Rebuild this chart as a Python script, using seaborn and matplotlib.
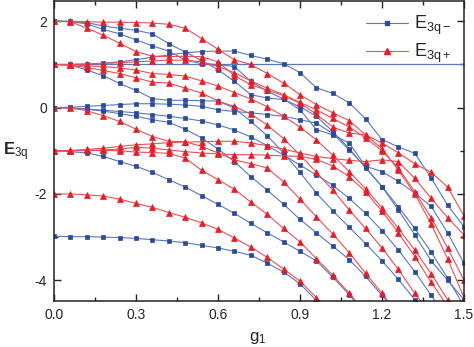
import numpy as np
import pandas as pd
import matplotlib
matplotlib.use("Agg")
import matplotlib.pyplot as plt
from matplotlib.lines import Line2D
from matplotlib.ticker import MultipleLocator
import seaborn as sns

# coupling grid shared by all levels
g1 = [0.00, 0.06, 0.12, 0.18, 0.24, 0.30, 0.36, 0.42, 0.48, 0.54, 0.60, 0.66, 0.72,
      0.78, 0.84, 0.90, 0.96, 1.02, 1.08, 1.14, 1.20, 1.26, 1.32, 1.38, 1.44, 1.50]

# odd-parity levels E_3q-
em_1 = [2.0, 2.0, 1.97, 1.89, 1.84, 1.79, 1.71, 1.48, 1.29, 1.09, 0.88, 0.61, 0.30,
        0.22, 0.19, 0.02, -0.20, -0.55, -0.95, -1.40, -1.83, -2.30, -2.80, -3.35, -3.95, -4.60]
em_2 = [2.0, 1.99, 1.94, 1.81, 1.71, 1.57, 1.43, 1.31, 1.10, 1.02, 1.00, 0.95, 0.61,
        0.38, 0.20, -0.05, -0.51, -0.63, -0.82, -1.36, -1.48, -1.71, -1.98, -2.29, -2.90, -3.61]
em_3 = [1.0, 1.0, 1.01, 1.03, 1.06, 1.11, 1.17, 1.22, 1.27, 1.30, 1.31, 1.31, 1.21,
        1.12, 1.02, 0.81, 0.46, 0.33, 0.11, -0.26, -0.74, -0.91, -1.06, -1.63, -2.26, -2.76]
em_4 = [1.0, 0.99, 0.87, 0.74, 0.56, 0.40, 0.21, 0.17, 0.17, 0.16, 0.15, -0.01, -0.32,
        -0.65, -1.05, -1.50, -1.98, -2.39, -2.77, -3.15, -3.55, -3.98, -4.45, -4.90]
em_5 = [0.0, -0.01, -0.04, -0.08, -0.14, -0.20, -0.28, -0.34, -0.50, -0.70, -0.96, -1.25,
        -1.60, -1.91, -2.24, -2.59, -2.90, -3.21, -3.52, -3.91, -4.35, -4.80]
em_6 = [0.0, 0.01, 0.03, 0.05, 0.07, 0.09, 0.09, 0.08, 0.06, 0.03, -0.05, -0.09, -0.12,
        -0.16, -0.20, -0.28, -0.36, -0.60, -0.98, -1.38, -1.83, -2.37, -2.95, -3.55, -4.00, -4.45]
em_7 = [0.0, -0.01, -0.03, -0.06, -0.09, -0.12, -0.16, -0.20, -0.25, -0.31, -0.40, -0.52,
        -0.68, -0.88, -1.10, -1.33, -1.56, -1.80, -2.10, -2.45, -2.85, -3.30, -3.80, -4.35, -4.90]
em_8 = [-1.0, -1.02, -1.05, -1.13, -1.25, -1.36, -1.50, -1.67, -1.84, -2.04, -2.24, -2.45,
        -2.68, -2.90, -3.11, -3.33, -3.55, -3.93, -4.33, -4.80]
em_9 = [-2.98, -2.99, -2.99, -3.00, -3.01, -3.03, -3.06, -3.09, -3.13, -3.19, -3.25, -3.33,
        -3.42, -3.60, -3.81, -4.08, -4.47, -4.90]

# even-parity levels E_3q+
ep_1 = [2.0, 2.0, 1.99, 1.98, 1.98, 1.97, 1.96, 1.93, 1.84, 1.60, 1.35, 1.11, 1.00,
        0.79, 0.57, 0.30, 0.07, -0.12, -0.30, -0.63, -0.82, -1.05, -1.30, -1.50, -1.84, -2.51]
ep_2 = [2.0, 1.99, 1.84, 1.68, 1.49, 1.30, 1.19, 1.18, 1.19, 1.18, 1.06, 0.74, 0.53,
        0.40, 0.28, 0.10, -0.15, -0.45, -0.59, -0.63, -0.95, -1.45, -2.00, -2.70, -3.50, -4.40]
ep_3 = [1.0, 1.0, 1.01, 1.02, 1.04, 1.06, 1.08, 1.10, 1.10, 1.06, 0.95, 0.81, 0.62,
        0.45, 0.30, 0.12, -0.05, -0.25, -0.45, -0.70, -1.00, -1.40, -1.95, -2.55, -3.25, -4.00]
ep_4 = [1.0, 0.99, 0.97, 0.95, 0.92, 0.87, 0.79, 0.77, 0.73, 0.62, 0.50, 0.35, 0.20,
        0.02, -0.20, -0.45, -0.75, -1.10, -1.48, -1.88, -2.32, -2.80, -3.30, -3.85, -4.45, -4.90]
ep_5 = [1.0, 0.98, 0.93, 0.86, 0.79, 0.69, 0.59, 0.57, 0.45, 0.34, 0.15, 0.03, -0.15,
        -0.40, -0.72, -1.10, -1.50, -1.91, -2.37, -2.80, -3.25, -3.75, -4.30, -4.80]
ep_6 = [0.0, -0.01, -0.07, -0.19, -0.32, -0.50, -0.67, -0.78, -0.79, -0.90, -1.05, -1.21,
        -1.30, -1.40, -1.72, -2.12, -2.53, -2.93, -3.36, -3.84, -4.30, -4.80]
ep_7 = [-1.0, -0.99, -0.97, -0.94, -0.90, -0.86, -0.84, -0.81, -0.80, -0.79, -0.78, -0.78,
        -0.82, -0.88, -0.96, -1.05, -1.13, -1.18, -1.22, -1.25, -1.21, -1.25, -1.64, -2.10, -2.55, -2.95]
ep_8 = [-1.0, -1.0, -0.99, -0.98, -0.96, -0.92, -0.94, -0.98, -1.02, -1.05, -1.07, -1.09,
        -1.09, -1.10, -1.12, -1.13, -1.20, -1.35, -1.60, -1.95, -2.40, -2.90, -3.45, -4.05, -4.60]
ep_9 = [-1.0, -1.0, -0.99, -0.99, -1.00, -1.03, -1.04, -1.06, -1.17, -1.45, -1.67, -1.89,
        -2.19, -2.47, -2.80, -3.11, -3.50, -3.88, -4.30, -4.75]
ep_10 = [-2.0, -2.0, -2.02, -2.05, -2.12, -2.22, -2.31, -2.43, -2.54, -2.67, -2.82, -3.02,
         -3.23, -3.47, -3.74, -4.02, -4.40, -4.80]

# flat reference level
ref_g = [0.0, 1.5]
ref_e = [1.0, 1.0]

minus_levels = [em_1, em_2, em_3, em_4, em_5, em_6, em_7, em_8, em_9]
plus_levels = [ep_1, ep_2, ep_3, ep_4, ep_5, ep_6, ep_7, ep_8, ep_9, ep_10]


def to_frame(levels):
    rows = []
    for k, vals in enumerate(levels):
        for gx, ev in zip(g1, vals):
            rows.append({"g": gx, "E": ev, "level": k})
    return pd.DataFrame(rows)


df_minus = to_frame(minus_levels)
df_plus = to_frame(plus_levels)
df_ref = pd.DataFrame({"g": ref_g, "E": ref_e})

blue_line, blue_mark = "#5a78c0", "#2b4a9c"
red_line, red_mark = "#ee4d55", "#e2202c"

sns.set_style("ticks")
plt.rcParams["font.family"] = ["Liberation Sans", "DejaVu Sans"]
plt.rcParams["axes.unicode_minus"] = False
plt.rcParams["mathtext.fontset"] = "custom"
plt.rcParams["mathtext.rm"] = "Liberation Sans"
plt.rcParams["mathtext.bf"] = "Liberation Sans:bold"
plt.rcParams["mathtext.it"] = "Liberation Sans:italic"

fig = plt.figure(figsize=(4.74, 3.47), dpi=100)
ax = fig.add_axes([54 / 474, 1 - 301 / 347, 410 / 474, 300 / 347])

sns.lineplot(data=df_ref, x="g", y="E", color=blue_line, lw=0.9, ax=ax,
             estimator=None, legend=False)
sns.lineplot(data=df_minus, x="g", y="E", units="level", estimator=None,
             color=blue_line, lw=0.8, marker="s", markersize=3.4,
             markerfacecolor=blue_mark, markeredgecolor=blue_mark,
             markeredgewidth=0.5, ax=ax, legend=False)
sns.lineplot(data=df_plus, x="g", y="E", units="level", estimator=None,
             color=red_line, lw=0.8, marker="^", markersize=4.0,
             markerfacecolor=red_mark, markeredgecolor=red_mark,
             markeredgewidth=0.5, ax=ax, legend=False)

ax.set_xlim(0, 1.5)
ax.set_ylim(-4.48, 2.47)
ax.xaxis.set_major_locator(MultipleLocator(0.3))
ax.xaxis.set_minor_locator(MultipleLocator(0.15))
ax.yaxis.set_major_locator(MultipleLocator(2))
ax.yaxis.set_minor_locator(MultipleLocator(1))
ax.xaxis.set_major_formatter(matplotlib.ticker.FormatStrFormatter("%.1f"))
ax.tick_params(which="both", direction="in", top=True, right=True,
               labelsize=10, width=1.0, color="#222222")
ax.tick_params(which="major", length=5, pad=5)
ax.tick_params(which="minor", length=3)
for sp in ax.spines.values():
    sp.set_visible(True)
    sp.set_linewidth(1.1)
    sp.set_color("#222222")
ax.set_xlabel("")
ax.set_ylabel("")

fig.text(16 / 474, 1 - 152 / 347, r"$\mathbf{E}_{\mathrm{3q}}$", fontsize=12,
         ha="center", va="center")
fig.text(258 / 474, 1 - 338 / 347, r"$\mathrm{g}_{\mathrm{1}}$", fontsize=12,
         ha="center", va="center")

handles = [
    Line2D([], [], color=blue_line, lw=0.8, marker="s", markersize=3.4,
           markerfacecolor=blue_mark, markeredgecolor=blue_mark),
    Line2D([], [], color=red_line, lw=0.8, marker="^", markersize=4.0,
           markerfacecolor=red_mark, markeredgecolor=red_mark),
]
ax.legend(handles, [r"$\mathrm{E}_{\mathrm{3q-}}$", r"$\mathrm{E}_{\mathrm{3q+}}$"],
          loc="upper right", bbox_to_anchor=(1.0, 1.0), frameon=False,
          fontsize=13, handlelength=2.3, handletextpad=0.35, labelspacing=0.3,
          borderaxespad=0.3)

fig.savefig("out.png", dpi=100)
